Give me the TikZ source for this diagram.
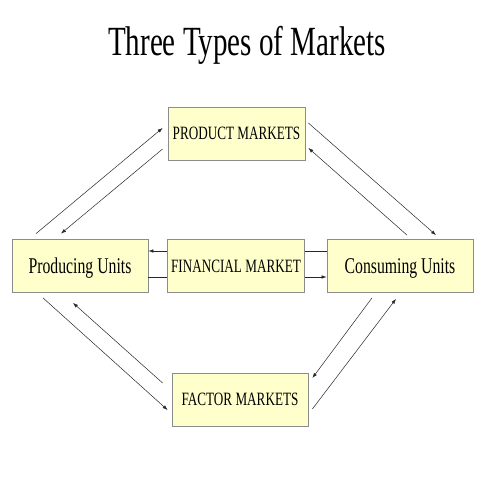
\documentclass[tikz,border=0pt]{standalone}
\usepackage{fontspec}
\setmainfont[FakeStretch=0.7]{Liberation Serif}
\usetikzlibrary{arrows.meta}
\definecolor{boxfill}{HTML}{FFFFCC}
\definecolor{boxline}{HTML}{8C8C8C}

\begin{document}
\begin{tikzpicture}[x=1pt,y=-1pt]
\tikzstyle{market}=[rectangle,draw=boxline,fill=boxfill,line width=0.8pt,inner sep=0pt,minimum height=53pt,font=\fontsize{18.8}{22}\selectfont]
\tikzstyle{unit}=[market,text depth=0pt,font=\fontsize{22.5}{26}\selectfont]
\tikzstyle{flow}=[draw=black!85,line width=0.5pt,-{Latex[length=5pt,width=3.5pt]}]
\tikzstyle{link}=[draw=black!85,line width=0.5pt]
\useasboundingbox (0,0) rectangle (480,480);
\node[anchor=base] (title) at (247,55) {\fontsize{41.5}{48}\selectfont Three Types of Markets};
\node[market,minimum width=137pt] (pm) at (236.5,133.5) {PRODUCT MARKETS};
\node[unit,minimum width=136pt] (pu) at (80,266) {Producing Units};
\node[market,minimum width=137pt] (fm) at (236,266) {FINANCIAL MARKET};
\node[unit,minimum width=146pt] (cu) at (400,266) {Consuming Units};
\node[market,minimum width=136pt] (fa) at (240,399.5) {FACTOR MARKETS};
% product market flows
\draw[flow] ([shift={(-44,-5.5)}]pu.north) -- ([shift={(-5,-5.5)}]pm.west);
\draw[flow] ([shift={(-5,15.5)}]pm.west) -- ([shift={(-19,-5.5)}]pu.north);
\draw[flow] ([shift={(3,-10.5)}]pm.east) -- ([shift={(36,-4)}]cu.north);
\draw[flow] ([shift={(7,-4)}]cu.north) -- ([shift={(3,14.5)}]pm.east);
% financial market flows
\draw[flow] ([yshift=15]fm.west) -- ([yshift=15]pu.east);
\draw[link] ([yshift=-11]pu.east) -- ([yshift=-11]fm.west);
\draw[link] ([yshift=15]fm.east) -- ([yshift=15]cu.west);
\draw[flow] ([yshift=-11]fm.east) -- ([yshift=-11]cu.west);
% factor market flows
\draw[flow] ([shift={(-37,5)}]pu.south) -- ([shift={(-4,10.5)}]fa.west);
\draw[flow] ([shift={(-9,-16.5)}]fa.west) -- ([shift={(-7,10)}]pu.south);
\draw[flow] ([shift={(-28,5)}]cu.south) -- ([shift={(4,-21.5)}]fa.east);
\draw[flow] ([shift={(4,9.5)}]fa.east) -- ([shift={(-4,6)}]cu.south);
\end{tikzpicture}
\end{document}
